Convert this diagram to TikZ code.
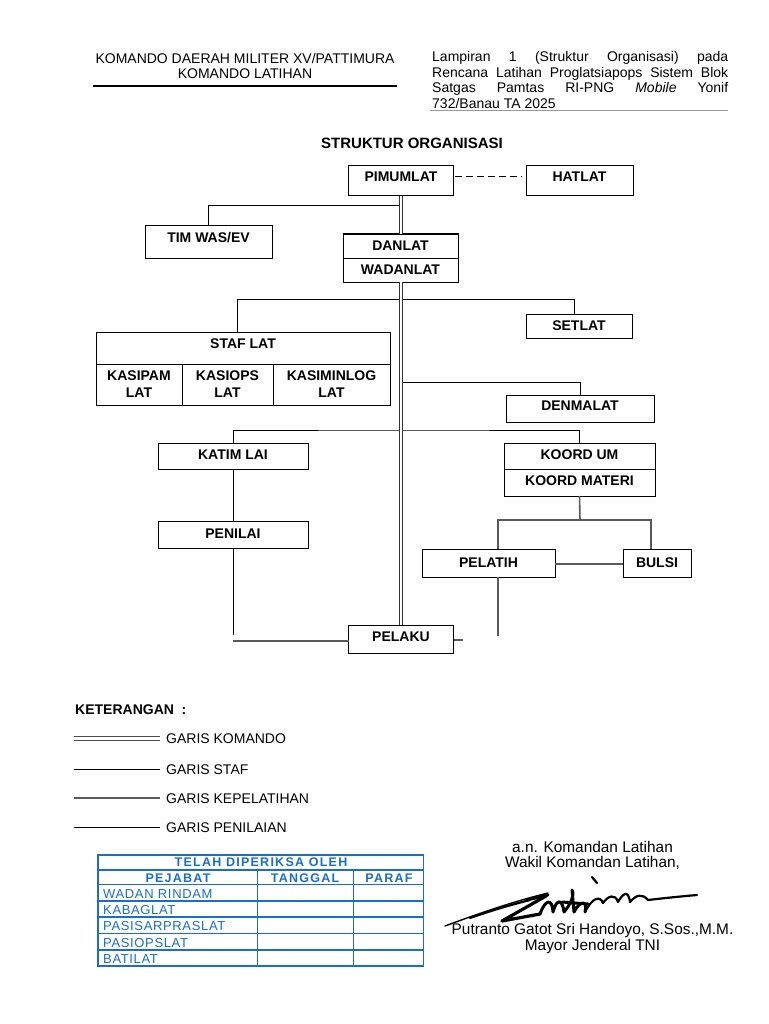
\documentclass[tikz,border=0pt]{standalone}
\usepackage{fontspec}
\setmainfont{Liberation Sans}
\newfontfamily\tblbold[LetterSpace=10]{Liberation Sans}
\newfontfamily\tblreg[LetterSpace=5]{Liberation Sans}
\usetikzlibrary{calc}
\definecolor{tblue}{RGB}{25,110,200}
\begin{document}
\begin{tikzpicture}[x=1pt,y=-1pt,
  box/.style 2 args={draw, line width=1pt, fill=white, minimum width=#1, minimum height=#2, inner sep=0pt, outer sep=0pt},
  lbl/.style={font=\fontsize{14}{16}\selectfont\bfseries, anchor=base, inner sep=0pt},
  txt/.style={font=\fontsize{14}{16}\selectfont, anchor=base, inner sep=0pt},
  sigtxt/.style={font=\fontsize{15.4}{17}\selectfont, anchor=base, inner sep=0pt},
  staf/.style={draw=black, line width=1pt},
  penilai/.style={draw=black, line width=1pt},
  kep/.style={draw=black!65, line width=1.6pt},
  komcore/.style={draw=white, line width=2.4pt},
  komL/.style={draw=black!80, line width=1pt, transform canvas={xshift=-1.7pt}},
  komR/.style={draw=black!80, line width=1pt, transform canvas={xshift=1.7pt}},
  komU/.style={draw=black!70, line width=1pt, transform canvas={yshift=1.65pt}},
  komD/.style={draw=black!70, line width=1pt, transform canvas={yshift=-1.65pt}},
  hubline/.style={draw=black, line width=1pt, dash pattern=on 7pt off 4pt},
  tline/.style={draw=tblue, line width=1.2pt},
  tb/.style={font=\tblbold\fontsize{12.5}{14}\selectfont\bfseries, text=tblue, anchor=base, inner sep=0pt},
  tr/.style={font=\tblreg\fontsize{13}{15}\selectfont, text=tblue, anchor=base west, inner sep=0pt},
  sig/.style={draw=black, line cap=round, line join=round}
]
\useasboundingbox (0,0) rectangle (768,1024);

% ---------- header ----------
\node[txt] (h1) at (245,63.5) {KOMANDO DAERAH MILITER XV/PATTIMURA};
\node[txt] (h2) at (245,78.5) {KOMANDO LATIHAN};
\coordinate (hu1) at (93,86); \coordinate (hu2) at (397,86);
\draw[line width=1.2pt] (hu1) -- (hu2);
\node[txt, anchor=base west] (r1) at (432,62) {\makebox[296pt][s]{Lampiran 1 (Struktur Organisasi) pada}};
\node[txt, anchor=base west] (r2) at (432,77.5) {\makebox[296pt][s]{Rencana Latihan Proglatsiapops Sistem Blok}};
\node[txt, anchor=base west] (r3) at (432,93) {\makebox[296pt][s]{Satgas Pamtas RI-PNG \textit{Mobile} Yonif}};
\node[txt, anchor=base west] (r4) at (432,108.5) {732/Banau TA 2025};
\coordinate (ru1) at (430,111); \coordinate (ru2) at (728,111);
\draw[line width=1pt, black!40] (ru1) -- (ru2);

\node[font=\fontsize{15}{17}\selectfont\bfseries, anchor=base, inner sep=0pt] (title) at (412,148.5) {STRUKTUR ORGANISASI};

% ---------- boxes ----------
\node[box={105pt}{30pt}] (pim) at (401,181) {};
\node[box={107pt}{30pt}] (hatlat) at (579.5,181) {};
\node[box={127pt}{32pt}] (timwas) at (208.5,242) {};
\node[box={115pt}{24.5pt}] (danlat) at (400.5,246.25) {};
\node[box={115pt}{23.5pt}] (wadanlat) at (400.5,270.25) {};
\node[box={106pt}{24pt}] (setlat) at (579,326) {};
\node[box={294pt}{32pt}] (staflat) at (243,348) {};
\node[box={86pt}{41pt}] (kasipam) at (139,384.5) {};
\node[box={91pt}{41pt}] (kasiops) at (227.5,384.5) {};
\node[box={117pt}{41pt}] (kasimin) at (331.5,384.5) {};
\node[box={148pt}{27pt}] (denmalat) at (580,408.5) {};
\node[box={150pt}{26pt}] (katim) at (233,456) {};
\node[box={151pt}{26pt}] (koordum) at (579.5,456) {};
\node[box={151pt}{27pt}] (koordmat) at (579.5,482.5) {};
\node[box={150pt}{27pt}] (penilai) at (233,534.5) {};
\node[box={133pt}{28pt}] (pelatih) at (488.5,563) {};
\node[box={68pt}{28pt}] (bulsi) at (657,563) {};
\node[box={105pt}{28pt}] (pelaku) at (401,639) {};

% ---------- connectors ----------
\coordinate (j1) at (401,206);
\coordinate (j2) at (401,299);
\coordinate (j3) at (401,382);
\coordinate (j4) at (401,430);
\coordinate (k5) at (580,520);
\coordinate (pe1) at (233,635);
\coordinate (pe2) at (233,641);
\coordinate (pt1) at (498,636);
\coordinate (ps1) at (463,640);

\draw[hubline, shorten <=1.5pt, shorten >=4pt] ([yshift=4pt]pim.east) -- ([yshift=4pt]hatlat.west);
\draw[staf] (timwas.north) |- (j1);
\draw[staf] ([xshift=-6pt]staflat.north) |- (j2);
\draw[staf] (j2) -| ([xshift=-5pt]setlat.north);
\draw[staf] (j3) -| (denmalat.north);
\draw[staf] (katim.north) |- (j4) -| (koordum.north);
\draw[penilai] (katim.south) -- (penilai.north);
\draw[penilai] (penilai.south) -- (pe1);
\draw[kep] (pe2) -- ([yshift=-2pt]pelaku.west);
\draw[kep] (koordmat.south) -- (k5);
\draw[kep] ([xshift=9.5pt]pelatih.north) |- (k5) -| ([xshift=-6pt]bulsi.north);
\draw[kep] ([yshift=-1pt]pelatih.east) -- ([yshift=-1pt]bulsi.west);
\draw[kep] ([xshift=9.5pt]pelatih.south) -- (pt1);
\draw[kep] ([yshift=-1pt]pelaku.east) -- (ps1);

% garis komando (double line)
\coordinate (kd1) at ($(danlat.north)+(0.5,0)$);
\coordinate (kd2) at ($(wadanlat.south)+(0.5,0)$);
\foreach \st in {komcore,komL,komR} {
  \draw[\st] (pim.south) -- (kd1);
  \draw[\st] (kd2) -- (pelaku.north);
}

% ---------- labels ----------
\node[lbl] (tpim) at (401,182) {PIMUMLAT};
\node[lbl] (thatlat) at (579.5,182) {HATLAT};
\node[lbl] (ttimwas) at (208.5,242) {TIM WAS/EV};
\node[lbl] (tdanlat) at (400.5,251) {DANLAT};
\node[lbl] (twadanlat) at (400.5,274) {WADANLAT};
\node[lbl] (tsetlat) at (579,330) {SETLAT};
\node[lbl] (tstaflat) at (243,348) {STAF LAT};
\node[lbl] (tkasipam1) at (139,380) {KASIPAM};
\node[lbl] (tkasipam2) at (139,397) {LAT};
\node[lbl] (tkasiops1) at (227.5,380) {KASIOPS};
\node[lbl] (tkasiops2) at (227.5,397) {LAT};
\node[lbl] (tkasimin1) at (331.5,380) {KASIMINLOG};
\node[lbl] (tkasimin2) at (331.5,397) {LAT};
\node[lbl] (tdenmalat) at (580,410) {DENMALAT};
\node[lbl] (tkatim) at (233,459) {KATIM LAI};
\node[lbl] (tkoordum) at (579.5,459) {KOORD UM};
\node[lbl] (tkoordmat) at (579.5,485) {KOORD MATERI};
\node[lbl] (tpenilai) at (233,538) {PENILAI};
\node[lbl] (tpelatih) at (488.5,567) {PELATIH};
\node[lbl] (tbulsi) at (657,567) {BULSI};
\node[lbl] (tpelaku) at (401,641) {PELAKU};

% ---------- legend ----------
\node[lbl, anchor=base west] (ket) at (75,714) {KETERANGAN \ :};
\coordinate (l1a) at (74,738.4); \coordinate (l1b) at (160,738.4);
\coordinate (l2a) at (74,769); \coordinate (l2b) at (160,769);
\coordinate (l3a) at (74,798); \coordinate (l3b) at (160,798);
\coordinate (l4a) at (74,827); \coordinate (l4b) at (160,827);
\draw[komU] (l1a) -- (l1b);
\draw[komD] (l1a) -- (l1b);
\draw[staf] (l2a) -- (l2b);
\draw[kep] (l3a) -- (l3b);
\draw[penilai] (l4a) -- (l4b);
\node[txt, anchor=base west] (lg1) at (166,743) {GARIS KOMANDO};
\node[txt, anchor=base west] (lg2) at (166,774) {GARIS STAF};
\node[txt, anchor=base west] (lg3) at (166,803) {GARIS KEPELATIHAN};
\node[txt, anchor=base west] (lg4) at (166,832) {GARIS PENILAIAN};

% ---------- table ----------
\draw[tline] (98,855) rectangle (423.5,966);
\foreach \yy in {870,884.5,901,917,933.5,950} {\draw[tline] (98,\yy) -- (423.5,\yy);}
\draw[tline] (257.7,870) -- (257.7,966);
\draw[tline] (353.3,870) -- (353.3,966);
\node[tb] (th) at (261,866.5) {TELAH DIPERIKSA OLEH};
\node[tb] (tc1) at (178,882) {PEJABAT};
\node[tb] (tc2) at (305,882) {TANGGAL};
\node[tb] (tc3) at (389,882) {PARAF};
\node[tr] (tr1) at (103,898) {WADAN RINDAM};
\node[tr] (tr2) at (103,914) {KABAGLAT};
\node[tr] (tr3) at (103,930.5) {PASISARPRASLAT};
\node[tr] (tr4) at (103,947) {PASIOPSLAT};
\node[tr] (tr5) at (103,963.5) {BATILAT};

% ---------- signature ----------
\node[sigtxt] (s1) at (592.5,852) {a.n. Komandan Latihan};
\node[sigtxt] (s2) at (592.5,867.5) {Wakil Komandan Latihan,};
\draw[sig, line width=1.4pt] (445,926) .. controls (480,913) and (515,901) .. (548,893);
\draw[sig, line width=2.2pt] (470,918) .. controls (490,911) and (510,905) .. (530,900);
\draw[sig, line width=3pt] (527,900) -- (548,895);
\draw[sig, line width=3.2pt] (546,896) -- (502,921) -- (540,914);
\draw[sig, line width=3pt] (540,914) .. controls (545,900) and (552,897) .. (553,912) .. controls (556,900) and (562,897) .. (564,912) .. controls (570,905) and (575,895) .. (572,890) -- (574,912) .. controls (580,900) and (588,900) .. (585,912);
\draw[sig, line width=3pt] (562,902) -- (588,904);
\draw[sig, line width=2.2pt] (585,912) .. controls (592,898) and (600,895) .. (603,903) .. controls (608,896) and (615,893) .. (618,902) .. controls (622,895) and (628,888) .. (630,902) .. controls (636,895) and (642,893) .. (648,900) .. controls (665,898) and (685,896) .. (697,895);
\draw[sig, line width=2.2pt] (592,877) -- (597,883);
\node[sigtxt] (s3) at (592.5,934) {Putranto Gatot Sri Handoyo, S.Sos.,M.M.};
\node[sigtxt] (s4) at (592.5,950.5) {Mayor Jenderal TNI};
\end{tikzpicture}
\end{document}
